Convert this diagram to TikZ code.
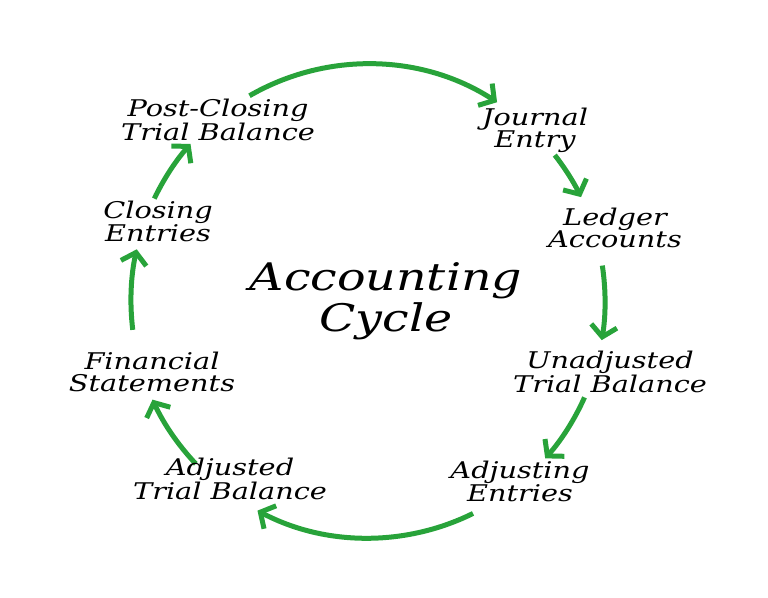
\documentclass[tikz,border=0pt]{standalone}
\usepackage{fontspec}
\setmainfont{DejaVu Serif}
\usepackage{tikz}
\usetikzlibrary{arrows.meta}
\definecolor{cyclegreen}{RGB}{40,163,58}

\begin{document}
\begin{tikzpicture}[x=1pt,y=1pt,
    flow/.style={line width=5pt, cyclegreen, -{Straight Barb[length=11pt,width=26pt]}},
    step label/.style={align=center, inner sep=0pt, xscale=1.25, font=\fontsize{23}{22}\selectfont\itshape},
    title label/.style={align=center, inner sep=0pt, xscale=1.25, font=\fontsize{38}{41}\selectfont\itshape}]
    \useasboundingbox (0,0) rectangle (768,597);
    \coordinate (c) at (368,296);
    \foreach \a/\b in {120/57, 38/26, 8.6/-9.5, -24/-41.6, -63.7/-117.8, -136.6/-155.4, 187/167.4, 154.4/138.5}
        \draw[flow] ([shift={(\a:237)}]c) arc[start angle=\a, end angle=\b, radius=237];
    \node[step label] (journal) at (535,467) {Journal\\Entry};
    \node[step label] (ledger) at (615,369) {Ledger\\Accounts};
    \node[step label] (unadjusted) at (610,225) {Unadjusted\\Trial Balance};
    \node[step label] (adjusting) at (520,116) {Adjusting\\Entries};
    \node[step label] (adjusted) at (230,118) {Adjusted\\Trial Balance};
    \node[step label] (financial) at (152,225) {Financial\\Statements};
    \node[step label] (closing) at (158,376) {Closing\\Entries};
    \node[step label] (postclosing) at (218,477) {Post-Closing\\Trial Balance};
    \node[title label] (title) at (386,296) {Accounting\\Cycle};
\end{tikzpicture}
\end{document}
